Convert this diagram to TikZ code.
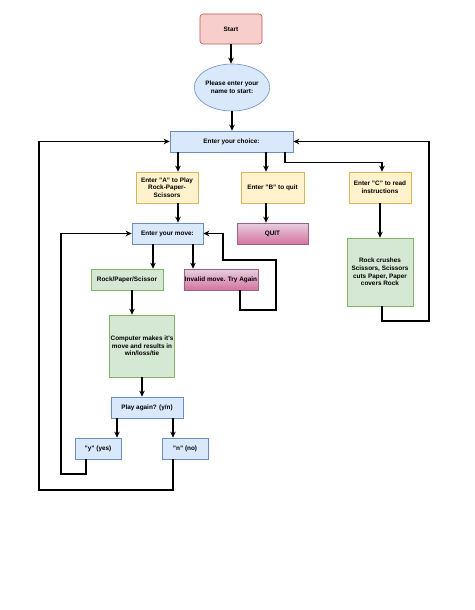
\documentclass[tikz,border=0pt]{standalone}
\usepackage{fontspec}
\setmainfont{Liberation Sans}
\usetikzlibrary{arrows.meta,shapes.geometric}
\definecolor{bfill}{HTML}{DAE8FC}\definecolor{bdraw}{HTML}{6C8EBF}
\definecolor{yfill}{HTML}{FFF2CC}\definecolor{ydraw}{HTML}{D6B656}
\definecolor{gfill}{HTML}{D5E8D4}\definecolor{gdraw}{HTML}{82B366}
\definecolor{rfill}{HTML}{F8CECC}\definecolor{rdraw}{HTML}{B85450}
\definecolor{ptop}{HTML}{E6D0DE}\definecolor{pbot}{HTML}{D5739D}\definecolor{pdraw}{HTML}{996185}
\begin{document}
\begin{tikzpicture}[x=1pt,y=-1pt,
  box/.style={draw,line width=0.6pt,inner sep=1pt,align=center,
    font=\fontsize{6.4}{7.6}\selectfont\bfseries},
  blue/.style={box,fill=bfill,draw=bdraw},
  yel/.style={box,fill=yfill,draw=ydraw},
  grn/.style={box,fill=gfill,draw=gdraw},
  pnk/.style={box,top color=ptop,bottom color=pbot,draw=pdraw},
  arr/.style={line width=1.4pt,-{Stealth[length=6pt,width=5.5pt]}},
  ln/.style={line width=1.4pt}]
\useasboundingbox (0,0) rectangle (474,610);
\node[box,fill=rfill,draw=rdraw,rounded corners=3pt,minimum width=62pt,minimum height=30pt] (start) at (231,29) {Start};
\node[blue,ellipse,minimum width=70pt,minimum height=47pt,inner sep=0pt] (name) at (232,87.5) {Please enter your\\name to start:};
\node[blue,minimum width=123pt,minimum height=21pt] (choice) at (231.5,141.5) {Enter your choice:};
\node[yel,minimum width=62pt,minimum height=31pt] (A) at (167,187.5) {Enter "A" to Play\\Rock-Paper-\\Scissors};
\node[yel,minimum width=63pt,minimum height=31pt] (B) at (272.5,187.5) {Enter "B" to quit};
\node[yel,minimum width=62pt,minimum height=31pt] (C) at (380,187.5) {Enter "C" to read\\instructions};
\node[blue,minimum width=71pt,minimum height=21pt] (move) at (167.5,233.5) {Enter your move:};
\node[pnk,minimum width=71pt,minimum height=21pt] (quit) at (272.5,233.5) {QUIT};
\node[grn,minimum width=72pt,minimum height=21pt] (rps) at (127,279.5) {Rock/Paper/Scissor};
\node[pnk,minimum width=72pt,minimum height=21pt] (inv) at (221,279.5) {Invalid move. Try Again};
\node[grn,minimum width=66pt,minimum height=68pt] (rock) at (380,272) {Rock crushes\\Scissors, Scissors\\cuts Paper, Paper\\covers Rock};
\node[grn,minimum width=62pt,minimum height=62pt] (comp) at (142,346) {Computer makes it\textquotesingle s\\move and results in\\win/loss/tie};
\node[blue,minimum width=72pt,minimum height=21pt] (play) at (147,407.5) {Play again? (y/n)};
\node[blue,minimum width=46pt,minimum height=21pt] (yes) at (98,448.5) {"y" (yes)};
\node[blue,minimum width=46pt,minimum height=21pt] (no) at (185,448.5) {"n" (no)};
\coordinate (LL) at (39,490);
\coordinate (RR) at (429,321);
\coordinate (IL1) at (276,310);
\coordinate (IL2) at (223,260);
\coordinate (YL) at (61,474);
\draw[arr] (start.south) -- (start.south |- name.north);
\draw[arr] (name.south) -- (name.south |- choice.north);
\draw[arr] ([xshift=11pt]A.north |- choice.south) -- ([xshift=11pt]A.north);
\draw[arr] ([xshift=-6.5pt]B.north |- choice.south) -- ([xshift=-6.5pt]B.north);
\draw[arr] ([xshift=53.5pt]choice.south) -- ++(0,10) -| ([xshift=2pt]C.north);
\draw[arr] (no.south) ++(-12pt,0) |- (LL) |- (choice.west);
\draw[arr] ([xshift=2pt]rock.south) |- (RR) |- (choice.east);
\draw[arr] ([xshift=11pt]A.south) -- ([xshift=11pt]A.south |- move.north);
\draw[arr] ([xshift=-6.5pt]B.south) -- ([xshift=-6.5pt]B.south |- quit.north);
\draw[arr] (C.south) -- (C.south |- rock.north);
\draw[arr] ([xshift=-14.5pt]move.south) -- ([xshift=-14.5pt]move.south |- rps.north);
\draw[arr] ([xshift=25.5pt]move.south) -- ([xshift=25.5pt]move.south |- inv.north);
\draw[arr] ([xshift=19pt]inv.south) |- (IL1) |- (IL2) |- (move.east);
\draw[arr] ([xshift=5pt]rps.south) -- ([xshift=5pt]rps.south |- comp.north);
\draw[arr] (comp.south) -- (comp.south |- play.north);
\draw[arr] ([xshift=-30pt]play.south) -- ([xshift=-30pt]play.south |- yes.north);
\draw[arr] ([xshift=26pt]play.south) -- ([xshift=26pt]play.south |- no.north);
\draw[arr] ([xshift=-12pt]yes.south) |- (YL) |- (move.west);
\end{tikzpicture}
\end{document}
